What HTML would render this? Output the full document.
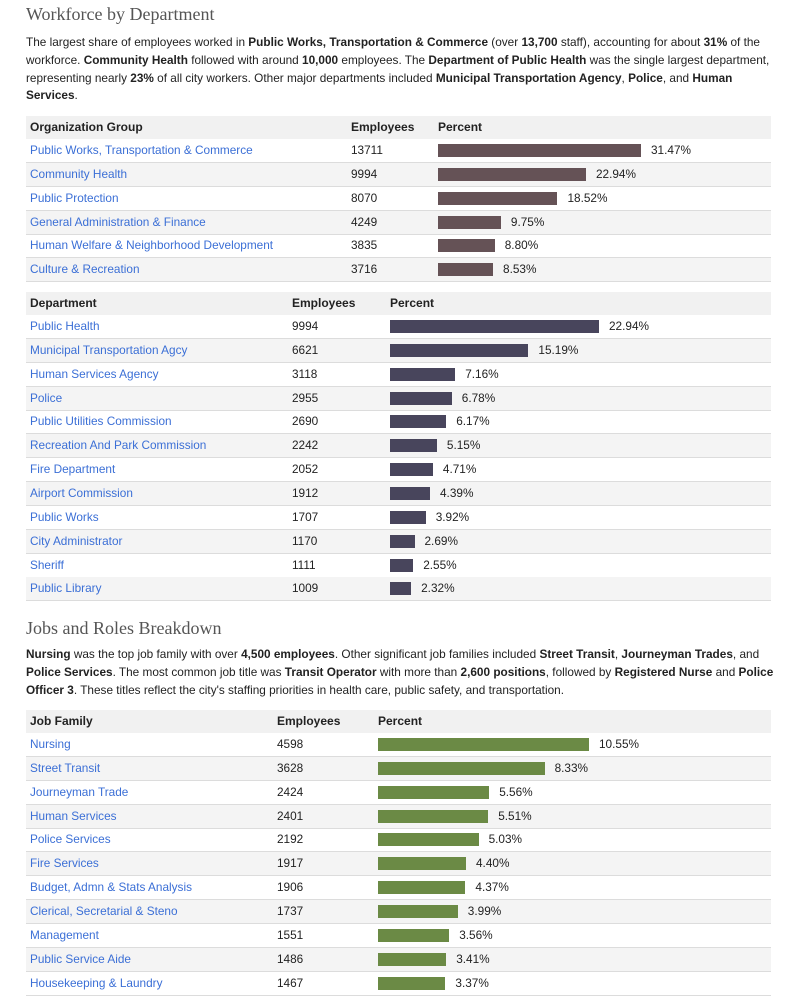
<!DOCTYPE html>
<html><head><meta charset="utf-8">
<style>
body{margin:0;width:800px;height:1000px;overflow:hidden;background:#fff;font-family:"Liberation Sans",sans-serif;color:#222;position:relative}
h2{position:absolute;left:26px;margin:0;font-family:"Liberation Serif",serif;font-weight:normal;font-size:18px;color:#555}
p{position:absolute;left:26px;margin:0;font-size:11.8px;line-height:17.8px;width:750px;white-space:nowrap;color:#222}
.tbl{position:absolute;left:26px;width:745px}
.hdr{position:absolute;left:0;width:745px;height:23px;background:#f1f1f1;font-weight:bold;font-size:12px}
.row{position:absolute;left:0;width:745px;height:23px;border-bottom:1px solid #dcdcdc;font-size:11.8px}
.row.alt{background:#f4f4f4}
.c{position:absolute;top:0;line-height:23px;white-space:nowrap}
.lnk{color:#3b6fd6}
.bar{position:absolute;top:5px;height:13px}
</style></head><body>
<h2 style="top:4px">Workforce by Department</h2>
<p style="top:34px">The largest share of employees worked in <b>Public Works, Transportation &amp; Commerce</b> (over <b>13,700</b> staff), accounting for about <b>31%</b> of the<br>workforce. <b>Community Health</b> followed with around <b>10,000</b> employees. The <b>Department of Public Health</b> was the single largest department,<br>representing nearly <b>23%</b> of all city workers. Other major departments included <b>Municipal Transportation Agency</b>, <b>Police</b>, and <b>Human</b><br><b>Services</b>.</p>
<div id="t1" class="tbl" style="top:116px"></div>
<div id="t2" class="tbl" style="top:292px"></div>
<h2 style="top:618px">Jobs and Roles Breakdown</h2>
<p style="top:646px"><b>Nursing</b> was the top job family with over <b>4,500 employees</b>. Other significant job families included <b>Street Transit</b>, <b>Journeyman Trades</b>, and<br><b>Police Services</b>. The most common job title was <b>Transit Operator</b> with more than <b>2,600 positions</b>, followed by <b>Registered Nurse</b> and <b>Police</b><br><b>Officer 3</b>. These titles reflect the city's staffing priorities in health care, public safety, and transportation.</p>
<div id="t3" class="tbl" style="top:710px"></div>
<script>
const orgNames=["Public Works, Transportation & Commerce","Community Health","Public Protection","General Administration & Finance","Human Welfare & Neighborhood Development","Culture & Recreation"];
const orgEmp=[13711,9994,8070,4249,3835,3716];
const orgPct=[31.47,22.94,18.52,9.75,8.80,8.53];
const deptNames=["Public Health","Municipal Transportation Agcy","Human Services Agency","Police","Public Utilities Commission","Recreation And Park Commission","Fire Department","Airport Commission","Public Works","City Administrator","Sheriff","Public Library"];
const deptEmp=[9994,6621,3118,2955,2690,2242,2052,1912,1707,1170,1111,1009];
const deptPct=[22.94,15.19,7.16,6.78,6.17,5.15,4.71,4.39,3.92,2.69,2.55,2.32];
const jobNames=["Nursing","Street Transit","Journeyman Trade","Human Services","Police Services","Fire Services","Budget, Admn & Stats Analysis","Clerical, Secretarial & Steno","Management","Public Service Aide","Housekeeping & Laundry"];
const jobEmp=[4598,3628,2424,2401,2192,1917,1906,1737,1551,1486,1467];
const jobPct=[10.55,8.33,5.56,5.51,5.03,4.40,4.37,3.99,3.56,3.41,3.37];

function build(id,title,names,emp,pct,empX,pctX,maxW,color,key){
  const t=document.getElementById(id);
  const h=document.createElement('div');h.className='hdr';
  
  
  h.innerHTML='<span class="c" style="left:4px">'+title+'</span><span class="c" style="left:'+empX+'px">Employees</span><span class="c" style="left:'+pctX+'px">Percent</span>';
  t.appendChild(h);
  const mx=Math.max(...pct);
  names.forEach((n,i)=>{
    const r=document.createElement('div');r.className='row'+(i%2?' alt':'');
    
    
    r.style.top=(23+i*23.85)+'px';
    const a=document.createElement('span');a.className='c lnk';a.style.left='4px';a.textContent=n;
    
    
    const e=document.createElement('span');e.className='c';e.style.left=empX+'px';e.textContent=emp[i];
    
    
    const w=pct[i]/mx*maxW;
    const b=document.createElement('div');b.className='bar';b.style.left=pctX+'px';b.style.width=w+'px';b.style.background=color;
    
    
    const l=document.createElement('span');l.className='c';l.style.left=(pctX+w+10)+'px';l.textContent=pct[i].toFixed(2)+'%';
    
    
    r.append(a,e,b,l);t.appendChild(r);
  });
}
build('t1','Organization Group',orgNames,orgEmp,orgPct,325,412,203,'#655256','org-group');
build('t2','Department',deptNames,deptEmp,deptPct,266,364,209,'#48455c','department');
build('t3','Job Family',jobNames,jobEmp,jobPct,251,352,211,'#6b8a45','job-family');
</script>
</body></html>
